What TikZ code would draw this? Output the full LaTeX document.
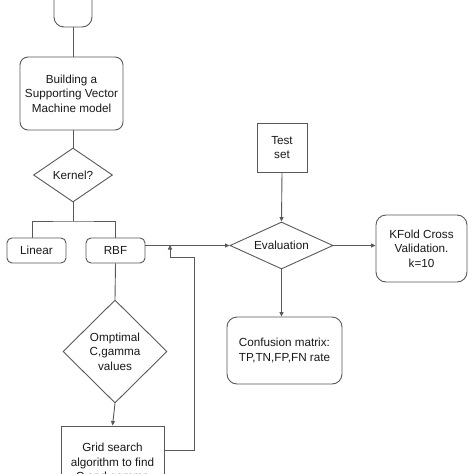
\documentclass[tikz,border=0pt]{standalone}
\usepackage{fontspec}
\setmainfont{Liberation Sans}
\usetikzlibrary{shapes.geometric,arrows.meta}
\begin{document}
\begin{tikzpicture}[x=1pt,y=-1pt,
  every node/.style={font=\fontsize{11.7}{14.5}\selectfont, text=black!90},
  line/.style={draw=black!65, line width=0.9pt},
  arr/.style={line, -{Triangle[length=4.5pt,width=4pt]}},
  rbox/.style={line, rounded corners=8pt, align=center, inner sep=0pt},
  sbox/.style={line, align=center, inner sep=0pt},
  dia/.style={line, diamond, align=center, inner sep=0pt}]
\useasboundingbox (0,0) rectangle (474,474);
\clip (0,0) rectangle (474,474);
\fill[white] (0,0) rectangle (474,474);

\node[rbox, rounded corners=10pt, minimum width=38pt, minimum height=47pt] (start) at (73,3.5) {};
\node[rbox, minimum width=103pt, minimum height=73pt] (build) at (71.5,93.5) {Building a\\Supporting Vector\\Machine model};
\node[dia, minimum width=79pt, minimum height=54pt, aspect=1.5] (kernel) at (73,175) {Kernel?};
\node[rbox, rounded corners=5pt, minimum width=59pt, minimum height=25pt] (linear) at (36.5,250.5) {Linear};
\node[rbox, rounded corners=5pt, minimum width=59pt, minimum height=25pt] (rbf) at (115.5,250.5) {RBF};
\node[dia, minimum width=104pt, minimum height=103pt, aspect=1] (opt) at (115,351.5) {Omptimal\\C,gamma\\values};
\node[sbox, minimum width=103pt, minimum height=74pt] (grid) at (112.5,463) {Grid search\\algorithm to find\\C and gamma};
\node[sbox, minimum width=50pt, minimum height=49pt] (test) at (282,147.5) {Test\\set};
\node[dia, minimum width=103pt, minimum height=47pt, aspect=2.2] (eval) at (281.5,245.5) {Evaluation};
\node[rbox, rounded corners=10pt, minimum width=91pt, minimum height=67pt] (kfold) at (421.5,248.5) {KFold Cross\\Validation.\\k=10};
\node[rbox, rounded corners=10pt, minimum width=115pt, minimum height=67pt, align=left] (conf) at (284.5,350.5) {Confusion matrix:\\TP,TN,FP,FN rate};

\coordinate (split) at (73,221);
\coordinate (join) at (170,245);

\draw[line] (start.south) -- (start.south |- build.north);
\draw[line] (kernel.north |- build.south) -- (kernel.north);
\draw[line] (kernel.south) -- (split);
\draw[line] ([xshift=-4.5pt]linear.north) |- (split) -| (rbf.north);
\draw[arr] (rbf.east |- eval.west) -- (eval.west);
\draw[line] (rbf.south) -- (opt.north);
\draw[arr] (opt.south) -- (grid.north);
\draw[arr] ([yshift=13pt]grid.east) -| (194,257) -| (join);
\draw[arr] (test.south) -- (eval.north);
\draw[arr] (eval.east) -- (eval.east -| kfold.west);
\draw[arr] (eval.south) -- (eval.south |- conf.north);
\end{tikzpicture}
\end{document}
